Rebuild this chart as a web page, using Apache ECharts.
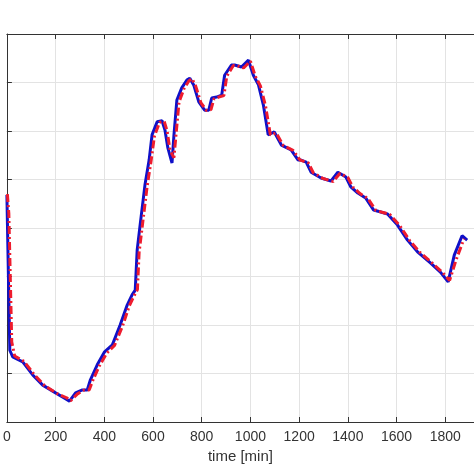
<!DOCTYPE html><html><head><meta charset="utf-8"><script src="https://cdn.jsdelivr.net/npm/echarts@6/dist/echarts.min.js"></script></head><body style="margin:0"><div id="c" style="width:474px;height:474px"></div><script>
const blueX=[0,12,24,65,106,147,200,237,257,282,310,330,343,371,400,433,465,494,514,527,535,547,567,584,596,617,637,649,661,678,686,698,718,739,751,767,788,812,829,841,861,882,894,922,935,963,992,1012,1033,1053,1073,1098,1127,1167,1196,1208,1229,1249,1290,1331,1359,1392,1412,1441,1473,1506,1535,1563,1604,1645,1686,1739,1780,1812,1837,1869,1890];
const blueY=[4.68,1.48,1.34,1.24,0.97,0.76,0.60,0.49,0.43,0.60,0.66,0.66,0.87,1.18,1.44,1.59,2.00,2.41,2.62,2.72,3.55,4.06,4.89,5.40,5.92,6.19,6.21,6.02,5.65,5.34,5.92,6.64,6.89,7.05,7.09,6.95,6.60,6.43,6.43,6.68,6.70,6.74,7.15,7.36,7.36,7.32,7.46,7.15,6.95,6.54,5.92,5.98,5.71,5.61,5.40,5.40,5.36,5.15,5.03,4.97,5.15,5.05,4.85,4.72,4.62,4.37,4.33,4.29,4.06,3.75,3.51,3.28,3.09,2.89,3.44,3.84,3.75];
const redX=[2,8,20,32,70,112,155,205,245,262,290,318,338,352,380,410,442,475,503,522,536,543,556,576,592,606,627,646,658,670,686,694,707,727,747,760,775,797,820,838,850,870,891,903,930,944,972,1000,1020,1041,1062,1082,1106,1135,1175,1204,1217,1238,1258,1298,1340,1368,1400,1421,1450,1482,1515,1544,1572,1613,1654,1695,1748,1789,1818,1845,1877,1898];
const redY=[4.70,4.30,1.65,1.36,1.25,0.98,0.75,0.59,0.50,0.44,0.58,0.66,0.66,0.85,1.16,1.42,1.58,1.98,2.40,2.60,2.73,3.50,4.04,4.86,5.38,5.90,6.18,6.20,6.00,5.60,5.45,5.90,6.60,6.87,7.03,7.08,6.93,6.58,6.42,6.44,6.66,6.70,6.73,7.13,7.35,7.35,7.30,7.44,7.13,6.93,6.52,5.92,5.96,5.70,5.60,5.40,5.38,5.34,5.14,5.02,4.96,5.13,5.04,4.84,4.71,4.61,4.36,4.32,4.28,4.05,3.74,3.50,3.27,3.08,2.92,3.35,3.78];
const xTicks=[0,200,400,600,800,1000,1200,1400,1600,1800];
const zip=(a,b)=>a.map((v,i)=>[v,b[i]]);
const ch=echarts.init(document.getElementById('c'));
ch.setOption({animation:false,
grid:{left:4,top:34,right:0,bottom:52},
xAxis:[{type:'value',min:0,max:1918,interval:200,name:'time [min]',nameLocation:'middle',nameGap:26,nameTextStyle:{fontSize:15,color:'#333',fontFamily:'Liberation Sans'},
axisLine:{lineStyle:{color:'#333'}},axisTick:{inside:true,length:5,lineStyle:{color:'#333'}},
axisLabel:{fontSize:14,color:'#333',fontFamily:'Liberation Sans',showMaxLabel:false,formatter:v=>xTicks.includes(v)?String(v):''},
splitLine:{lineStyle:{color:'#e3e3e3'}}},
{type:'value',position:'top',min:0,max:1918,interval:200,axisLabel:{show:false},axisLine:{lineStyle:{color:'#333'}},axisTick:{inside:true,length:5,lineStyle:{color:'#333'}},splitLine:{show:false}}],
yAxis:{type:'value',min:0,max:8,interval:1,axisLabel:{show:false},axisLine:{show:true,lineStyle:{color:'#333'}},axisTick:{inside:true,length:5,lineStyle:{color:'#333'}},splitLine:{lineStyle:{color:'#e3e3e3'}}},
series:[
{type:'line',data:zip(blueX,blueY),showSymbol:false,lineStyle:{color:'#1010c8',width:3}},
{type:'line',data:zip(redX,redY),showSymbol:false,lineStyle:{color:'#ee1c2e',width:3,type:[8,3,2,3]}}
]});
</script></body></html>
